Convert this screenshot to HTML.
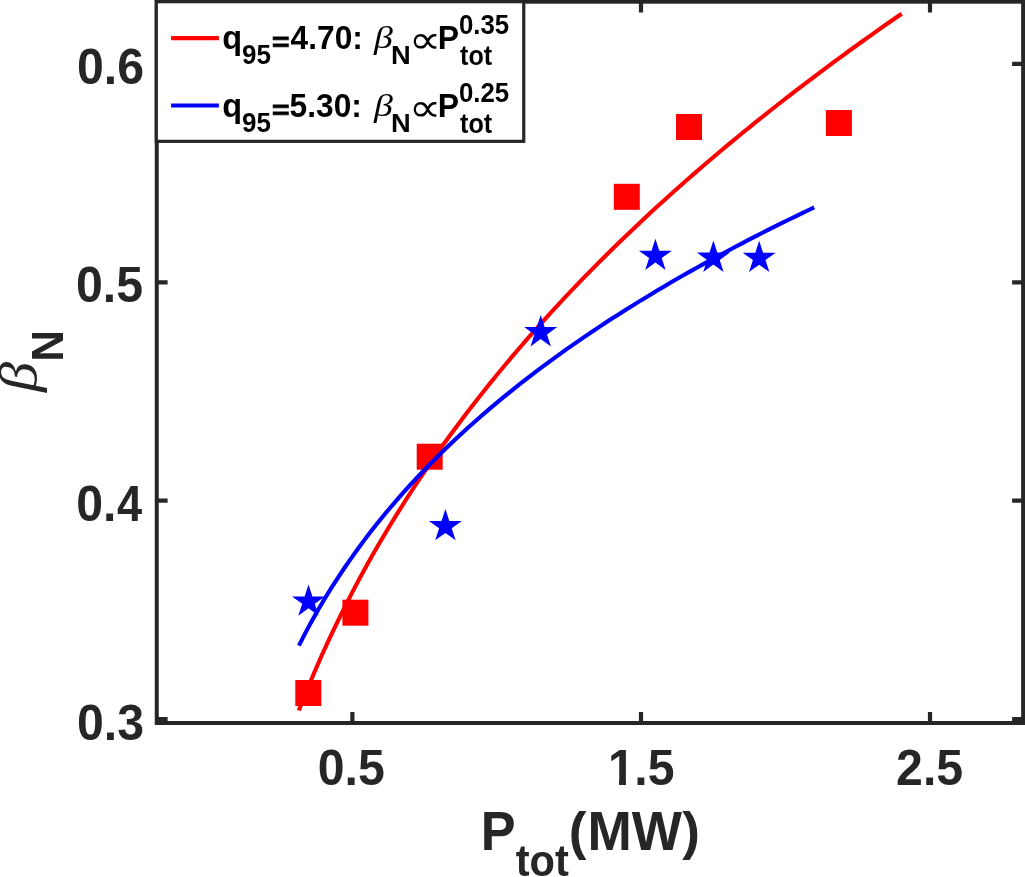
<!DOCTYPE html>
<html><head><meta charset="utf-8"><title>plot</title>
<style>
html,body{margin:0;padding:0;background:#fff;}
svg{display:block}
text{font-family:"Liberation Sans",sans-serif;font-weight:bold;}
.ax{fill:#262626}
.lg{fill:#000}
.beta{font-family:"Liberation Serif","DejaVu Serif",serif;font-style:italic;font-weight:normal}
.eqs{stroke:#000;stroke-width:1.05px}
.prop{font-family:"DejaVu Sans",sans-serif;font-weight:normal}
</style></head><body>
<svg width="1025" height="877" viewBox="0 0 1025 877">
<rect width="1025" height="877" fill="#fff"/>
<g stroke="#262626" stroke-width="4" fill="none" stroke-linecap="butt">
<rect x="156.75" y="1.7" width="866.4" height="721.3"/>
<path stroke-width="4.2" d="M352.4,723V712.1M641,723V712.1M930,723V712.1M641,1.8V12.6M930,1.8V12.6"/>
<path stroke-width="4.2" d="M156.8,282.3H167.6M156.8,500.7H167.6M156.8,719.2H167.6M1023.1,63.9H1012.1M1023.1,282.3H1012.1M1023.1,500.7H1012.1M1023.1,719.2H1012.1"/>
</g>
<path d="M298.80,710.57 L306.44,691.32 L314.07,673.01 L321.70,655.54 L329.33,638.81 L336.96,622.76 L344.59,607.31 L352.23,592.41 L359.86,578.01 L367.49,564.08 L375.12,550.58 L382.75,537.47 L390.38,524.73 L398.01,512.33 L405.65,500.25 L413.28,488.47 L420.91,476.97 L428.54,465.74 L436.17,454.75 L443.80,444.01 L451.43,433.48 L459.07,423.17 L466.70,413.07 L474.33,403.15 L481.96,393.42 L489.59,383.86 L497.22,374.47 L504.86,365.24 L512.49,356.16 L520.12,347.23 L527.75,338.45 L535.38,329.79 L543.01,321.27 L550.64,312.87 L558.28,304.60 L565.91,296.44 L573.54,288.39 L581.17,280.45 L588.80,272.62 L596.43,264.89 L604.06,257.26 L611.70,249.72 L619.33,242.28 L626.96,234.92 L634.59,227.65 L642.22,220.47 L649.85,213.37 L657.49,206.34 L665.12,199.40 L672.75,192.53 L680.38,185.73 L688.01,179.00 L695.64,172.35 L703.27,165.76 L710.91,159.24 L718.54,152.78 L726.17,146.38 L733.80,140.05 L741.43,133.77 L749.06,127.55 L756.69,121.39 L764.33,115.29 L771.96,109.24 L779.59,103.24 L787.22,97.30 L794.85,91.41 L802.48,85.56 L810.11,79.77 L817.75,74.02 L825.38,68.32 L833.01,62.66 L840.64,57.05 L848.27,51.49 L855.90,45.97 L863.54,40.48 L871.17,35.05 L878.80,29.65 L886.43,24.29 L894.06,18.97 L901.69,13.69" stroke="#f00" stroke-width="4.1" fill="none"/>
<g fill="#f00">
<rect x="295.3" y="680.0" width="26.0" height="26.0"/>
<rect x="342.4" y="599.7" width="26.0" height="26.0"/>
<rect x="416.7" y="443.7" width="26.0" height="26.0"/>
<rect x="613.8" y="183.8" width="26.0" height="26.0"/>
<rect x="676.0" y="114.0" width="26.0" height="26.0"/>
<rect x="825.9" y="110.0" width="26.0" height="26.0"/>
</g>
<path d="M298.90,645.65 L305.42,632.92 L311.95,620.82 L318.47,609.29 L324.99,598.26 L331.51,587.68 L338.04,577.52 L344.56,567.74 L351.08,558.31 L357.61,549.20 L364.13,540.39 L370.65,531.85 L377.17,523.56 L383.70,515.52 L390.22,507.70 L396.74,500.08 L403.26,492.67 L409.79,485.44 L416.31,478.39 L422.83,471.50 L429.36,464.77 L435.88,458.19 L442.40,451.74 L448.92,445.44 L455.45,439.26 L461.97,433.21 L468.49,427.27 L475.02,421.44 L481.54,415.72 L488.06,410.11 L494.58,404.59 L501.11,399.17 L507.63,393.84 L514.15,388.59 L520.67,383.43 L527.20,378.35 L533.72,373.35 L540.24,368.43 L546.77,363.57 L553.29,358.79 L559.81,354.08 L566.33,349.43 L572.86,344.85 L579.38,340.33 L585.90,335.87 L592.43,331.46 L598.95,327.11 L605.47,322.82 L611.99,318.58 L618.52,314.40 L625.04,310.26 L631.56,306.17 L638.08,302.13 L644.61,298.14 L651.13,294.19 L657.65,290.29 L664.18,286.42 L670.70,282.60 L677.22,278.82 L683.74,275.08 L690.27,271.38 L696.79,267.72 L703.31,264.10 L709.84,260.51 L716.36,256.95 L722.88,253.43 L729.40,249.95 L735.93,246.49 L742.45,243.07 L748.97,239.68 L755.50,236.33 L762.02,233.00 L768.54,229.70 L775.06,226.43 L781.59,223.19 L788.11,219.98 L794.63,216.80 L801.15,213.64 L807.68,210.51 L814.20,207.40" stroke="#00f" stroke-width="4.1" fill="none"/>
<g fill="#00f">
<polygon points="308.5,584.4 312.4,596.4 325.0,596.4 314.8,603.7 318.7,615.7 308.5,608.3 298.3,615.7 302.2,603.7 292.0,596.4 304.6,596.4"/>
<polygon points="445.4,509.0 449.3,521.0 461.9,521.0 451.7,528.3 455.6,540.3 445.4,532.9 435.2,540.3 439.1,528.3 428.9,521.0 441.5,521.0"/>
<polygon points="540.7,315.1 544.6,327.1 557.2,327.1 547.0,334.4 550.9,346.4 540.7,339.0 530.5,346.4 534.4,334.4 524.2,327.1 536.8,327.1"/>
<polygon points="655.4,238.7 659.3,250.7 671.9,250.7 661.7,258.0 665.6,270.0 655.4,262.6 645.2,270.0 649.1,258.0 638.9,250.7 651.5,250.7"/>
<polygon points="713.4,240.6 717.3,252.6 729.9,252.6 719.7,259.9 723.6,271.9 713.4,264.5 703.2,271.9 707.1,259.9 696.9,252.6 709.5,252.6"/>
<polygon points="759.2,240.8 763.1,252.8 775.7,252.8 765.5,260.1 769.4,272.1 759.2,264.7 749.0,272.1 752.9,260.1 742.7,252.8 755.3,252.8"/>
</g>
<text class="ax" style="font-size:50.5px" transform="translate(77.0 83.7) scale(0.955 1)">0.6</text>
<text class="ax" style="font-size:50.5px" transform="translate(76.0 302.1) scale(0.955 1)">0.5</text>
<text class="ax" style="font-size:50.5px" transform="translate(77.0 739.7) scale(0.955 1)">0.3</text>
<text class="ax" style="font-size:50.5px" transform="translate(76.3 520.5) scale(0.955 1)">0.</text>
<text class="ax" style="font-size:50.5px" transform="translate(117.0 520.5) scale(0.894835 1)">4</text>
<text class="ax" style="font-size:50.5px" transform="translate(317.8 785.0) scale(0.955 1)">0.5</text>
<text class="ax" style="font-size:50.5px" transform="translate(896.1 785.0) scale(0.955 1)">2.5</text>
<clipPath id="c1"><rect x="605.9" y="740" width="40" height="39.5"/><rect x="619.05" y="770" width="6.92" height="20"/></clipPath>
<g clip-path="url(#c1)"><text class="ax" style="font-size:50.5px" transform="translate(607.9 785.0) scale(0.955 1)">1</text></g>
<text class="ax" style="font-size:50.5px" transform="translate(634.3 785.0) scale(0.955 1)">.5</text>
<text class="ax" style="font-size:55px" transform="translate(480.8 850.0) scale(0.95 1)">P</text>
<text class="ax" style="font-size:44px" transform="translate(515.7 876.3) scale(0.945 1)">tot</text>
<text class="ax" style="font-size:55px" transform="translate(568.7 849.4) scale(0.967 0.945)">(</text>
<text class="ax" style="font-size:55px" transform="translate(587.5 850.0) scale(0.967 1)">MW</text>
<text class="ax" style="font-size:55px" transform="translate(682.3 849.4) scale(0.967 0.945)">)</text>
<text class="beta ax" style="font-size:52.5px" transform="translate(36.0 392.0) rotate(-90) scale(1.15 1)">β</text>
<text class="ax" style="font-size:44px" transform="translate(63.2 361.8) rotate(-90) scale(1 1)">N</text>
<rect x="156.3" y="1.7" width="367.45" height="139.65" fill="#fff" stroke="#262626" stroke-width="3.2"/>
<path d="M171.1,38.1H218.9" stroke="#f00" stroke-width="4.2"/>
<path d="M171.1,105.5H218.9" stroke="#00f" stroke-width="4.2"/>
<text class="lg" style="font-size:32.5px" transform="translate(222.2 48.5) scale(1 1)">q</text>
<text class="lg" style="font-size:27.8px" transform="translate(242.1 64.4) scale(0.935 1)">95</text>
<text class="eqs lg" style="font-size:32.5px" transform="translate(272.0 51.0) scale(0.92 0.8)">=</text>
<text class="lg" style="font-size:32.5px" transform="translate(290.6 48.5) scale(0.975 1)">4.70:</text>
<text class="beta lg" style="font-size:31px" transform="translate(374.0 47.7) scale(1.22 1)">β</text>
<text class="lg" style="font-size:26px" transform="translate(391.1 63.8) scale(1.05 1)">N</text>
<text class="prop lg" style="font-size:32.5px" transform="translate(408.7 52.8) scale(1.4 1.2)">∝</text>
<text class="lg" style="font-size:33.3px" transform="translate(437.8 48.5) scale(0.96 1)">P</text>
<text class="lg" style="font-size:27.6px" transform="translate(458.9 34.1) scale(0.935 1)">0.35</text>
<text class="lg" style="font-size:28.5px" transform="translate(460.1 64.7) scale(0.883 1)">tot</text>
<text class="lg" style="font-size:32.5px" transform="translate(222.2 116.5) scale(1 1)">q</text>
<text class="lg" style="font-size:27.8px" transform="translate(242.1 132.4) scale(0.935 1)">95</text>
<text class="eqs lg" style="font-size:32.5px" transform="translate(272.0 119.0) scale(0.92 0.8)">=</text>
<text class="lg" style="font-size:32.5px" transform="translate(289.6 116.5) scale(0.975 1)">5.30:</text>
<text class="beta lg" style="font-size:31px" transform="translate(374.0 115.7) scale(1.22 1)">β</text>
<text class="lg" style="font-size:26px" transform="translate(391.1 131.8) scale(1.05 1)">N</text>
<text class="prop lg" style="font-size:32.5px" transform="translate(408.7 120.8) scale(1.4 1.2)">∝</text>
<text class="lg" style="font-size:33.3px" transform="translate(437.8 116.5) scale(0.96 1)">P</text>
<text class="lg" style="font-size:27.6px" transform="translate(458.9 102.1) scale(0.935 1)">0.25</text>
<text class="lg" style="font-size:28.5px" transform="translate(460.1 132.7) scale(0.883 1)">tot</text>
</svg>
</body></html>
